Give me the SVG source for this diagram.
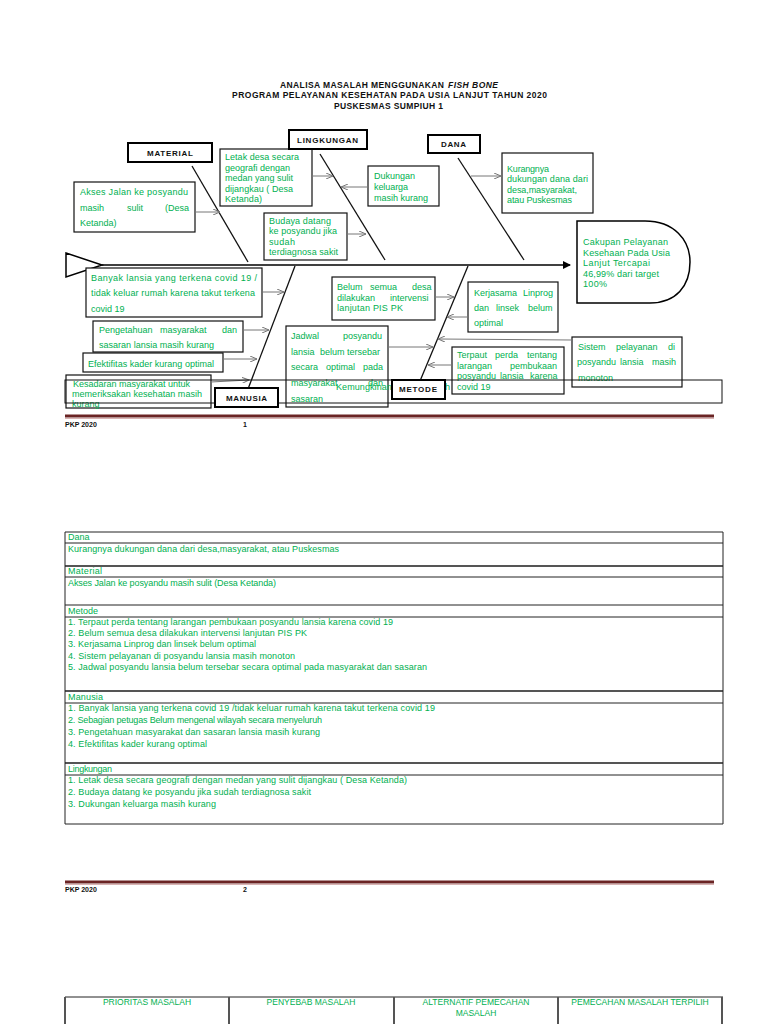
<svg xmlns="http://www.w3.org/2000/svg" width="768" height="1024" viewBox="0 0 768 1024">
<defs>
<style>
.g{fill:#00b050;font-family:"Liberation Sans",Arial,sans-serif;font-size:9px}
.t{fill:#00b050;font-family:"Liberation Sans",Arial,sans-serif;font-size:9px}
.h{fill:#00b050;font-family:"Liberation Sans",Arial,sans-serif;font-size:8.5px;text-anchor:middle}
.lbl{fill:#111;font-family:"Liberation Sans",Arial,sans-serif;font-weight:bold;font-size:8px}
.ttl{fill:#111;font-family:"Liberation Sans",Arial,sans-serif;font-weight:bold;font-size:8.5px}
.ft{fill:#111;font-family:"Liberation Sans",Arial,sans-serif;font-weight:bold;font-size:7px}
.box{fill:#fff;stroke:#111;stroke-width:1.2}
.cat{fill:#fff;stroke:#000;stroke-width:2}
.bone{stroke:#111;stroke-width:1.3;fill:none}
.conn{stroke:#777;stroke-width:1;fill:none;marker-end:url(#ah)}
.tl{stroke:#222;stroke-width:1;fill:none}
.tg{stroke:#555;stroke-width:2;fill:none}
.mr{stroke:#6b2424;stroke-width:3}
.mr2{stroke:#d9b3b3;stroke-width:1}
</style>
<marker id="ah" markerWidth="8" markerHeight="6" refX="7" refY="3" orient="auto" markerUnits="userSpaceOnUse">
<path d="M0,0 L7,3 L0,6" fill="none" stroke="#777" stroke-width="1"/>
</marker>
<marker id="sp" markerWidth="8" markerHeight="8" refX="7" refY="4" orient="auto" markerUnits="userSpaceOnUse">
<path d="M0,0 L8,4 L0,8 Z" fill="#000"/>
</marker>
</defs>
<rect width="768" height="1024" fill="#fff"/>

<g id="title">
<text class="ttl" y="88"><tspan x="280" textLength="164" lengthAdjust="spacing">ANALISA MASALAH MENGGUNAKAN</tspan><tspan x="448" font-style="italic" textLength="50" lengthAdjust="spacing">FISH BONE</tspan></text>
<text class="ttl" x="232" y="98" textLength="315" lengthAdjust="spacing">PROGRAM PELAYANAN KESEHATAN PADA USIA LANJUT TAHUN 2020</text>
<text class="ttl" x="334" y="109" textLength="109" lengthAdjust="spacing">PUSKESMAS SUMPIUH 1</text>
</g>

<g id="spine">
<polygon points="66,253 102,265 66,277" fill="#fff" stroke="#000" stroke-width="1.5"/>
<line x1="102" y1="265" x2="570" y2="265" stroke="#000" stroke-width="1.5" marker-end="url(#sp)"/>
</g>

<g id="bones">
<line class="bone" x1="192" y1="166" x2="248" y2="262"/>
<line class="bone" x1="320" y1="154" x2="385" y2="260"/>
<line class="bone" x1="458" y1="158" x2="524" y2="260"/>
<line class="bone" x1="295" y1="266" x2="248" y2="389"/>
<line class="bone" x1="468" y1="266" x2="420" y2="381"/>
</g>

<g id="head">
<path d="M577,221 L645,221 C674,221 690,240 690,262 C690,286 676,303 650,303 L577,303 Z" fill="#fff" stroke="#000" stroke-width="1.5"/>
<text class="g" x="583" y="245" textLength="85" lengthAdjust="spacing">Cakupan Pelayanan</text>
<text class="g" x="583" y="255.5" textLength="87" lengthAdjust="spacing">Kesehaan Pada Usia</text>
<text class="g" x="583" y="266" textLength="67" lengthAdjust="spacing">Lanjut Tercapai</text>
<text class="g" x="583" y="276.5" textLength="76" lengthAdjust="spacing">46,99% dari target</text>
<text class="g" x="583" y="287" textLength="24" lengthAdjust="spacing">100%</text>
</g>

<g id="n-akses">
<rect class="box" x="74" y="182" width="121" height="50"/>
<text class="g" x="80" y="194.5" textLength="108" lengthAdjust="spacing">Akses Jalan ke posyandu</text>
<text class="g" y="210.5"><tspan x="80">masih</tspan><tspan x="127">sulit</tspan><tspan x="165">(Desa</tspan></text>
<text class="g" x="80" y="225.5">Ketanda)</text>
</g>

<g id="n-letak">
<rect class="box" x="220" y="149" width="92" height="57"/>
<text class="g" x="225" y="160" textLength="74" lengthAdjust="spacing">Letak desa secara</text>
<text class="g" x="225" y="170.5" textLength="65" lengthAdjust="spacing">geografi dengan</text>
<text class="g" x="225" y="181" textLength="68" lengthAdjust="spacing">medan yang sulit</text>
<text class="g" x="225" y="191.5" textLength="68" lengthAdjust="spacing">dijangkau ( Desa</text>
<text class="g" x="225" y="202" textLength="37" lengthAdjust="spacing">Ketanda)</text>
</g>

<g id="n-dukungan">
<rect class="box" x="368" y="166" width="71" height="40"/>
<text class="g" x="374" y="178.5" textLength="41" lengthAdjust="spacing">Dukungan</text>
<text class="g" x="374" y="189.5" textLength="34" lengthAdjust="spacing">keluarga</text>
<text class="g" x="374" y="200.5" textLength="54" lengthAdjust="spacing">masih kurang</text>
</g>

<g id="n-budaya">
<rect class="box" x="264" y="213" width="83" height="47"/>
<text class="g" x="269" y="223.5" textLength="62" lengthAdjust="spacing">Budaya datang</text>
<text class="g" x="269" y="234" textLength="68" lengthAdjust="spacing">ke posyandu jika</text>
<text class="g" x="269" y="244.5" textLength="26" lengthAdjust="spacing">sudah</text>
<text class="g" x="269" y="255" textLength="69" lengthAdjust="spacing">terdiagnosa sakit</text>
</g>

<g id="n-kurangnya">
<rect class="box" x="502" y="153" width="91" height="60"/>
<text class="g" x="507" y="171.5" textLength="42" lengthAdjust="spacing">Kurangnya</text>
<text class="g" x="507" y="182" textLength="81" lengthAdjust="spacing">dukungan dana dari</text>
<text class="g" x="507" y="192.5" textLength="70" lengthAdjust="spacing">desa,masyarakat,</text>
<text class="g" x="507" y="203" textLength="65" lengthAdjust="spacing">atau Puskesmas</text>
</g>

<g id="n-banyak">
<rect class="box" x="86" y="268" width="176" height="49"/>
<text class="g" x="91" y="280.5" textLength="166" lengthAdjust="spacing">Banyak lansia yang terkena covid 19 /</text>
<text class="g" x="91" y="296" textLength="164" lengthAdjust="spacing">tidak keluar rumah karena takut terkena</text>
<text class="g" x="91" y="311.5">covid 19</text>
</g>

<g id="n-pengetahuan">
<rect class="box" x="93" y="321" width="150" height="31"/>
<text class="g" y="332.5"><tspan x="99">Pengetahuan</tspan><tspan x="160">masyarakat</tspan><tspan x="222">dan</tspan></text>
<text class="g" x="99" y="347.5" textLength="115" lengthAdjust="spacing">sasaran lansia masih kurang</text>
</g>

<g id="n-efektifitas">
<rect class="box" x="83" y="353" width="140" height="19"/>
<text class="g" x="88" y="366.5" textLength="126" lengthAdjust="spacing">Efektifitas kader kurang optimal</text>
</g>

<g id="n-kesadaran">
<rect class="box" x="66" y="375" width="145" height="33"/>
<text class="g" x="73" y="386.5" textLength="117" lengthAdjust="spacing">Kesadaran masyarakat untuk</text>
<text class="g" x="72" y="396.5" textLength="130" lengthAdjust="spacing">memeriksakan kesehatan masih</text>
<text class="g" x="72" y="406.5">kurang</text>
</g>

<g id="n-jadwal">
<rect class="box" x="286" y="326" width="102" height="81"/>
<text class="g" y="338.5"><tspan x="291">Jadwal</tspan><tspan x="343">posyandu</tspan></text>
<text class="g" y="354.5"><tspan x="291">lansia</tspan><tspan x="320">belum</tspan><tspan x="347">tersebar</tspan></text>
<text class="g" y="370"><tspan x="291">secara</tspan><tspan x="326">optimal</tspan><tspan x="363">pada</tspan></text>
<text class="g" y="386"><tspan x="291">masyarakat</tspan><tspan x="368">dan</tspan></text>
<text class="g" x="291" y="401.5">sasaran</text>
</g>

<g id="n-belum">
<rect class="box" x="332" y="277" width="103" height="43"/>
<text class="g" y="290"><tspan x="337">Belum</tspan><tspan x="370">semua</tspan><tspan x="412">desa</tspan></text>
<text class="g" y="300.5"><tspan x="337">dilakukan</tspan><tspan x="390">intervensi</tspan></text>
<text class="g" x="337" y="311" textLength="66" lengthAdjust="spacing">lanjutan PIS PK</text>
</g>

<g id="n-kerjasama">
<rect class="box" x="468" y="282" width="90" height="50"/>
<text class="g" y="295.5"><tspan x="474">Kerjasama</tspan><tspan x="523">Linprog</tspan></text>
<text class="g" y="310.5"><tspan x="474">dan</tspan><tspan x="496">linsek</tspan><tspan x="528">belum</tspan></text>
<text class="g" x="474" y="326">optimal</text>
</g>

<g id="n-sistem">
<rect class="box" x="572" y="337" width="110" height="50"/>
<text class="g" y="349.5"><tspan x="578">Sistem</tspan><tspan x="616">pelayanan</tspan><tspan x="668">di</tspan></text>
<text class="g" y="365"><tspan x="577">posyandu</tspan><tspan x="620">lansia</tspan><tspan x="652">masih</tspan></text>
<text class="g" x="578" y="380.5">monoton</text>
</g>

<g id="n-terpaut">
<rect class="box" x="452" y="347" width="112" height="47"/>
<text class="g" y="357.5"><tspan x="457">Terpaut</tspan><tspan x="495">perda</tspan><tspan x="527">tentang</tspan></text>
<text class="g" y="368.5"><tspan x="457">larangan</tspan><tspan x="510">pembukaan</tspan></text>
<text class="g" y="379"><tspan x="457">posyandu</tspan><tspan x="500">lansia</tspan><tspan x="530">karena</tspan></text>
<text class="g" x="457" y="390">covid 19</text>
</g>

<g id="connectors">
<line class="conn" x1="195" y1="212" x2="220" y2="212"/>
<line class="conn" x1="312" y1="176" x2="333" y2="176"/>
<line class="conn" x1="368" y1="187" x2="341" y2="187"/>
<line class="conn" x1="347" y1="234" x2="366" y2="234"/>
<line class="conn" x1="471" y1="176" x2="501" y2="176"/>
<line class="conn" x1="263" y1="292" x2="284" y2="292"/>
<line class="conn" x1="243" y1="330" x2="269" y2="330"/>
<line class="conn" x1="223" y1="359" x2="257" y2="359"/>
<line class="conn" x1="211" y1="382" x2="249" y2="380"/>
<line class="conn" x1="388" y1="347" x2="433" y2="347"/>
<line class="conn" x1="435" y1="297" x2="454" y2="297"/>
<line class="conn" x1="468" y1="317" x2="447" y2="317"/>
<line class="conn" x1="572" y1="340" x2="438" y2="339"/>
<line class="conn" x1="452" y1="365" x2="428" y2="365"/>
</g>

<g id="akar">
<rect x="65" y="380" width="657" height="23" fill="none" stroke="#111" stroke-width="1"/>
<text class="g" x="336" y="390" textLength="114" lengthAdjust="spacing">Kemungkinan Akar Masalah</text>
</g>

<g id="c-material"><rect class="cat" x="128" y="143" width="84" height="19"/><text class="lbl" x="147" y="155.5" textLength="46" lengthAdjust="spacing">MATERIAL</text></g>
<g id="c-lingkungan"><rect class="cat" x="289" y="130" width="78" height="19"/><text class="lbl" x="297" y="142.5" textLength="61" lengthAdjust="spacing">LINGKUNGAN</text></g>
<g id="c-dana"><rect class="cat" x="428" y="135" width="52" height="18"/><text class="lbl" x="441" y="147" textLength="25" lengthAdjust="spacing">DANA</text></g>
<g id="c-manusia"><rect class="cat" x="215" y="388" width="63" height="19"/><text class="lbl" x="226" y="400.5" textLength="41" lengthAdjust="spacing">MANUSIA</text></g>
<g id="c-metode"><rect class="cat" x="392" y="380" width="53" height="19" fill="none"/><text class="lbl" x="399" y="392" textLength="38" lengthAdjust="spacing">METODE</text></g>

<g id="footer1">
<line class="mr" x1="65" y1="416" x2="714" y2="416"/>
<line class="mr2" x1="65" y1="418.5" x2="714" y2="418.5"/>
<text class="ft" x="65" y="426.5">PKP 2020</text>
<text class="ft" x="243" y="426.5">1</text>
</g>

<g id="table1">
<line class="tl" x1="65" y1="532" x2="723" y2="532"/>
<line class="tl" x1="65" y1="543" x2="723" y2="543"/>
<line class="tg" x1="65" y1="566" x2="723" y2="566"/>
<line class="tl" x1="65" y1="577" x2="723" y2="577"/>
<line class="tl" x1="65" y1="605" x2="723" y2="605"/>
<line class="tl" x1="65" y1="617" x2="723" y2="617"/>
<line class="tg" x1="65" y1="691" x2="723" y2="691"/>
<line class="tl" x1="65" y1="703" x2="723" y2="703"/>
<line class="tg" x1="65" y1="763" x2="723" y2="763"/>
<line class="tl" x1="65" y1="775" x2="723" y2="775"/>
<line class="tl" x1="65" y1="824" x2="723" y2="824"/>
<line class="tl" x1="65" y1="532" x2="65" y2="824"/>
<line class="tl" x1="723" y1="532" x2="723" y2="824"/>
<text class="t" x="68" y="540">Dana</text>
<text class="t" x="68" y="551.5" textLength="271" lengthAdjust="spacing">Kurangnya dukungan dana dari desa,masyarakat, atau Puskesmas</text>
<text class="t" x="68" y="574" textLength="34" lengthAdjust="spacing">Material</text>
<text class="t" x="68" y="585.5" textLength="208" lengthAdjust="spacing">Akses Jalan ke posyandu masih sulit (Desa Ketanda)</text>
<text class="t" x="68" y="613.5" textLength="30" lengthAdjust="spacing">Metode</text>
<text class="t" x="68" y="625" textLength="325" lengthAdjust="spacing">1. Terpaut perda tentang larangan pembukaan posyandu lansia karena covid 19</text>
<text class="t" x="68" y="636" textLength="239" lengthAdjust="spacing">2. Belum semua desa dilakukan intervensi lanjutan PIS PK</text>
<text class="t" x="68" y="647" textLength="188" lengthAdjust="spacing">3. Kerjasama Linprog dan linsek belum optimal</text>
<text class="t" x="68" y="658.5" textLength="227" lengthAdjust="spacing">4. Sistem pelayanan di posyandu lansia masih monoton</text>
<text class="t" x="68" y="670" textLength="359" lengthAdjust="spacing">5. Jadwal posyandu lansia belum tersebar secara optimal pada masyarakat dan sasaran</text>
<text class="t" x="68" y="700" textLength="35" lengthAdjust="spacing">Manusia</text>
<text class="t" x="68" y="710.5" textLength="367" lengthAdjust="spacing">1. Banyak lansia yang terkena covid 19 /tidak keluar rumah karena takut terkena covid 19</text>
<text class="t" x="68" y="722.5" textLength="254" lengthAdjust="spacing">2. Sebagian petugas Belum mengenal wilayah secara menyeluruh</text>
<text class="t" x="68" y="734.5" textLength="252" lengthAdjust="spacing">3. Pengetahuan masyarakat dan sasaran lansia masih kurang</text>
<text class="t" x="68" y="747" textLength="139" lengthAdjust="spacing">4. Efektifitas kader kurang optimal</text>
<text class="t" x="68" y="772" textLength="44" lengthAdjust="spacing">Lingkungan</text>
<text class="t" x="68" y="782.5" textLength="339" lengthAdjust="spacing">1. Letak desa secara geografi dengan medan yang sulit dijangkau ( Desa Ketanda)</text>
<text class="t" x="68" y="794.5" textLength="243" lengthAdjust="spacing">2. Budaya datang ke posyandu jika sudah terdiagnosa sakit</text>
<text class="t" x="68" y="806.5" textLength="148" lengthAdjust="spacing">3. Dukungan keluarga masih kurang</text>
</g>

<g id="footer2">
<line class="mr" x1="65" y1="882" x2="714" y2="882"/>
<line class="mr2" x1="65" y1="884.5" x2="714" y2="884.5"/>
<text class="ft" x="65" y="892">PKP 2020</text>
<text class="ft" x="243" y="892">2</text>
</g>

<g id="table2">
<line class="tl" x1="65" y1="997" x2="723" y2="997"/>
<line class="tg" x1="65" y1="997" x2="65" y2="1024"/>
<line class="tg" x1="229" y1="997" x2="229" y2="1024"/>
<line class="tg" x1="394" y1="997" x2="394" y2="1024"/>
<line class="tg" x1="558" y1="997" x2="558" y2="1024"/>
<line class="tg" x1="722" y1="997" x2="722" y2="1024"/>
<text class="h" x="147" y="1005">PRIORITAS MASALAH</text>
<text class="h" x="311" y="1005">PENYEBAB MASALAH</text>
<text class="h" x="476" y="1005">ALTERNATIF PEMECAHAN</text>
<text class="h" x="476" y="1016">MASALAH</text>
<text class="h" x="640" y="1005">PEMECAHAN MASALAH TERPILIH</text>
</g>
</svg>
